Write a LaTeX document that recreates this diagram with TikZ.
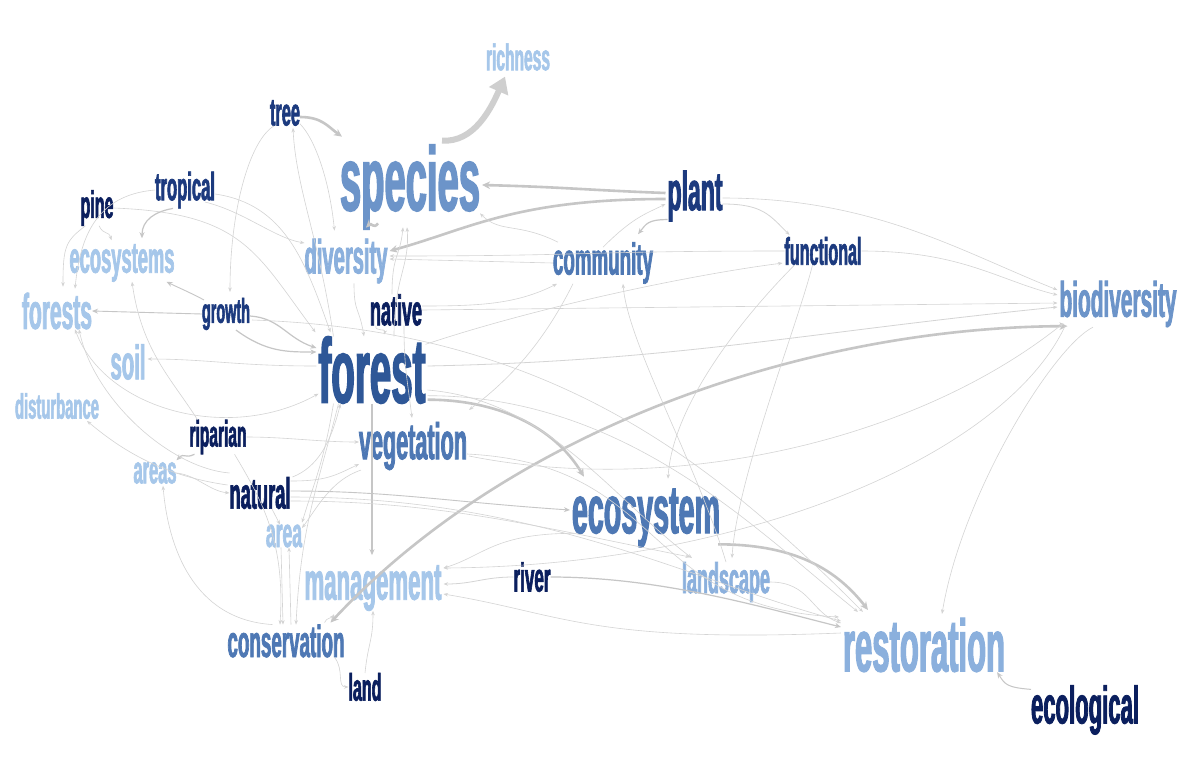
\documentclass[tikz,border=0pt]{standalone}
\usepackage{fontspec}
\usepackage{graphicx}
\usetikzlibrary{arrows.meta,calc}
\newfontfamily\condfont[FakeStretch=0.42,FakeBold=1.5]{Liberation Sans}
\newcommand\kwt[2]{\resizebox{#1pt}{!}{\condfont\bfseries #2}}
\definecolor{cNavy}{HTML}{0B1F5E}
\definecolor{cDark}{HTML}{1C3A7E}
\definecolor{cForest}{HTML}{2E5797}
\definecolor{cMid}{HTML}{4E78B4}
\definecolor{cSpec}{HTML}{6C94C9}
\definecolor{cLt}{HTML}{8BB0DD}
\definecolor{cPale}{HTML}{A6C7EA}
\definecolor{eg}{HTML}{D4D4D4}
\definecolor{egm}{HTML}{C6C6C6}
\tikzset{
  kw/.style={inner sep=0pt, outer sep=0pt},
  e/.style={draw=eg, line width=0.6pt, -{Stealth[length=4.5pt,width=3.5pt]}},
  em/.style={draw=egm, line width=1.2pt, -{Stealth[length=6pt,width=5pt]}},
  et/.style={draw=egm, line width=2.6pt, -{Stealth[length=8pt,width=7.5pt]}},
  ebig/.style={draw=egm!85, line width=6pt, -{Triangle[length=16pt,width=20pt]}},
}
\begin{document}
\begin{tikzpicture}[x=1pt,y=-1pt]
\useasboundingbox[fill=white] (0,0) rectangle (1200,756);
% nodes
\node[kw,text=cPale]   (richness)     at (518,57)  {\kwt{64}{richness}};
\node[kw,text=cDark]   (tree)         at (285,113) {\kwt{30}{tree}};
\node[kw,text=cSpec]   (species)      at (410,187) {\kwt{140}{species}};
\node[kw,text=cDark]   (plant)        at (695,196) {\kwt{55}{plant}};
\node[kw,text=cDark]   (tropical)     at (185,190) {\kwt{60}{tropical}};
\node[kw,text=cNavy]   (pine)         at (97,208)  {\kwt{33}{pine}};
\node[kw,text=cPale]   (ecosystems)   at (122,263) {\kwt{105}{ecosystems}};
\node[kw,text=cLt]     (diversity)    at (346,261) {\kwt{83}{diversity}};
\node[kw,text=cMid]    (community)    at (603,263) {\kwt{100}{community}};
\node[kw,text=cDark]   (functional)   at (823,251) {\kwt{77}{functional}};
\node[kw,text=cSpec]   (biodiversity) at (1118,304){\kwt{117}{biodiversity}};
\node[kw,text=cPale]   (forests)      at (57,311)  {\kwt{70}{forests}};
\node[kw,text=cDark]   (growth)       at (226,314) {\kwt{48}{growth}};
\node[kw,text=cNavy]   (native)       at (396,310) {\kwt{52}{native}};
\node[kw,text=cPale]   (soil)         at (128,362) {\kwt{35}{soil}};
\node[kw,text=cForest] (forest)       at (372,370) {\kwt{107}{forest}};
\node[kw,text=cPale]   (disturbance)  at (57,406)  {\kwt{84}{disturbance}};
\node[kw,text=cNavy]   (riparian)     at (218,437) {\kwt{57}{riparian}};
\node[kw,text=cMid]    (vegetation)   at (413,446) {\kwt{108}{vegetation}};
\node[kw,text=cPale]   (areas)        at (155,473) {\kwt{43}{areas}};
\node[kw,text=cNavy]   (natural)      at (260,493) {\kwt{61}{natural}};
\node[kw,text=cMid]    (ecosystem)    at (646,518) {\kwt{148}{ecosystem}};
\node[kw,text=cPale]   (area)         at (284,536) {\kwt{36}{area}};
\node[kw,text=cPale]   (management)   at (373,588) {\kwt{137}{management}};
\node[kw,text=cNavy]   (river)        at (532,577) {\kwt{37}{river}};
\node[kw,text=cLt]     (landscape)    at (726,582) {\kwt{88}{landscape}};
\node[kw,text=cMid]    (conservation) at (286,641) {\kwt{117}{conservation}};
\node[kw,text=cNavy]   (land)         at (365,687) {\kwt{33}{land}};
\node[kw,text=cLt]     (restoration)  at (924,645) {\kwt{162}{restoration}};
\node[kw,text=cNavy]   (ecological)   at (1085,710){\kwt{108}{ecological}};

% ---------- thick edges ----------
\draw[ebig] ($(species.north east)+(-38,-4)$) .. controls +(32,2) and +(-14,32) .. ($(richness.south)+(-13,6)$);
\draw[et] ($(tree.east)+(0,4)$) .. controls +(22,0) and +(-14,-10) .. ($(species.north west)+(2,-8)$);
\draw[et] ($(plant.west)+(-2,-3)$) .. controls +(-80,-3) and +(80,2) .. ($(species.east)+(2,-2)$);
\draw[et] ($(plant.west)+(-2,3)$) .. controls +(-150,0) and +(80,-22) .. ($(diversity.east)+(2,-10)$);
\draw[et] ($(species.south)+(-32,-6)$) .. controls +(-4,6) and +(5,-5) .. ($(diversity.north)+(20,-11)$);
\draw[et] ($(forest.south east)+(2,-4)$) .. controls +(70,0) and +(-30,-50) .. ($(ecosystem.north west)+(12,-12)$);
\draw[et] ($(ecosystem.south east)+(-2,-3)$) .. controls +(70,0) and +(-35,-45) .. ($(restoration.north west)+(25,-8)$);
\draw[et,{Stealth[length=8pt,width=7.5pt]}-{Stealth[length=8pt,width=7.5pt]}] ($(conservation.north east)+(-14,-2)$) .. controls +(189,-202) and +(-248,1) .. ($(biodiversity.south west)+(8,-1)$);
% ---------- medium edges ----------
\draw[em] ($(growth.south east)+(-14,0)$) .. controls +(30,22) and +(-30,0) .. ($(forest.west)+(-2,-18)$);
\draw[em] ($(growth.east)+(0,2)$) .. controls +(30,2) and +(-30,-10) .. ($(forest.west)+(-2,-22)$);
\draw[em] (forest.south) -- ($(management.north)+(-1,-10)$);
\draw[em] (river.east) .. controls +(110,0) and +(-80,-20) .. ($(restoration.west)+(-2,-18)$);
\draw[em,line width=1pt] ($(ecological.north west)+(0,4)$) .. controls +(-25,-2) and +(8,12) .. ($(restoration.south east)+(-8,0)$);
\draw[em] ($(tropical.south)+(-12,0)$) .. controls +(-18,3) and +(0,-18) .. ($(ecosystems.north)+(20,-6)$);
\draw[em] ($(riparian.south west)+(5,0)$) .. controls +(-10,5) and +(8,-8) .. ($(areas.north east)+(0,-2)$);
\draw[em] ($(plant.south west)+(0,-2)$) .. controls +(-20,0) and +(8,-10) .. ($(community.north east)+(-15,-8)$);
\draw[em,line width=0.9pt] (growth.west) -- (forests.east);
\draw[em,line width=0.9pt] ($(growth.north west)+(2,2)$) .. controls +(-15,-8) and +(10,5) .. ($(ecosystems.south east)+(-8,0)$);
\draw[em,line width=0.9pt] ($(natural.east)+(0,-2)$) .. controls +(100,0) and +(-120,-8) .. ($(ecosystem.west)+(-2,-8)$);
% ---------- thin edges ----------
\draw[e] ($(tree.south west)+(4,0)$) .. controls +(-25,15) and +(0,-80) .. ($(growth.north)+(4,-6)$);
\draw[e] ($(forest.north west)+(15,0)$) .. controls +(-15,-100) and +(3,60) .. ($(tree.south)+(8,2)$);
\draw[e] ($(tree.south east)+(0,-2)$) .. controls +(15,15) and +(-5,-50) .. ($(diversity.north west)+(30,-8)$);
\draw[e] (tropical.west) .. controls +(-60,5) and +(5,-50) .. ($(forests.north)+(18,-4)$);
\draw[e] ($(tropical.east)+(0,4)$) .. controls +(70,10) and +(-25,-70) .. ($(forest.north west)+(12,-4)$);
\draw[e] ($(tropical.east)+(-10,12)$) .. controls +(40,10) and +(-30,-5) .. ($(diversity.west)+(0,-18)$);
\draw[e] ($(pine.south)+(2,0)$) .. controls +(5,10) and +(-3,-10) .. ($(ecosystems.north west)+(42,-4)$);
\draw[e] ($(pine.south west)+(5,0)$) .. controls +(-20,15) and +(0,-40) .. ($(forests.north)+(6,-6)$);
\draw[e] (pine.east) .. controls +(130,5) and +(-60,-80) .. ($(forest.north west)+(-3,-4)$);
\draw[e] ($(forest.west)+(-2,-4)$) .. controls +(-80,0) and +(60,0) .. ($(soil.east)+(2,-3)$);
\draw[e] ($(riparian.north west)+(8,0)$) .. controls +(-25,-40) and +(10,70) .. ($(ecosystems.south)+(10,0)$);
\draw[e,{Stealth[length=4.5pt,width=3.5pt]}-{Stealth[length=4.5pt,width=3.5pt]}] ($(forests.south)+(18,0)$) .. controls +(30,80) and +(-90,50) .. ($(forest.south west)+(0,-10)$);
\draw[e] ($(natural.north west)+(0,-4)$) .. controls +(-60,-5) and +(15,70) .. ($(forests.south)+(22,0)$);
\draw[e] ($(natural.north east)+(2,0)$) .. controls +(25,-10) and +(-10,40) .. ($(forest.south west)+(22,0)$);
\draw[e] ($(natural.west)+(-2,-8)$) .. controls +(-70,-10) and +(30,25) .. ($(disturbance.south east)+(-12,2)$);
\draw[e] ($(conservation.north west)+(45,0)$) .. controls +(-80,-5) and +(5,60) .. ($(areas.south)+(8,2)$);
\draw[e] (riparian.east) .. controls +(40,0) and +(-40,0) .. ($(vegetation.west)+(0,-4)$);
\draw[e] ($(riparian.south east)+(-12,0)$) .. controls +(30,50) and +(5,-80) .. ($(conservation.north)+(-6,0)$);
\draw[e] ($(natural.north east)+(0,4)$) .. controls +(35,0) and +(-25,12) .. ($(vegetation.south west)+(0,-6)$);
\draw[e] ($(natural.south)+(12,0)$) -- ($(area.north)+(-4,0)$);
\draw[e] (areas.east) .. controls +(20,2) and +(-20,-2) .. (natural.west);
\draw[e] ($(natural.east)+(0,8)$) .. controls +(150,0) and +(-150,-30) .. ($(landscape.north west)+(8,-5)$);
\draw[e] ($(natural.east)+(0,4)$) .. controls +(250,0) and +(-150,-40) .. ($(restoration.west)+(-2,-24)$);
\draw[e] ($(area.south)+(-3,0)$) -- ($(conservation.north)+(-3,0)$);
\draw[e] ($(conservation.north)+(5,0)$) -- ($(area.south)+(5,0)$);
\draw[e] ($(forest.south west)+(15,0)$) .. controls +(-10,60) and +(12,-40) .. ($(area.north east)+(0,-2)$);
\draw[e] ($(vegetation.south west)+(2,0)$) .. controls +(-30,10) and +(15,-20) .. ($(area.east)+(0,-8)$);
\draw[e] ($(forest.south west)+(20,0)$) .. controls +(-20,80) and +(5,-100) .. ($(conservation.north)+(10,0)$);
\draw[e] ($(conservation.north east)+(-20,-2)$) .. controls +(3,-6) and +(-5,5) .. ($(management.south west)+(30,4)$);
\draw[e] (land.north) .. controls +(3,-30) and +(0,30) .. (management.south);
\draw[e] ($(conservation.south east)+(-10,0)$) .. controls +(10,12) and +(-12,0) .. (land.west);
\draw[e] ($(ecosystem.south west)+(2,-14)$) .. controls +(-80,0) and +(40,-12) .. ($(management.east)+(2,-20)$);
\draw[e,line width=0.8pt] (river.west) .. controls +(-30,0) and +(30,0) .. ($(management.east)+(2,-4)$);
\draw[e] ($(restoration.west)+(-2,-12)$) .. controls +(-250,10) and +(120,20) .. ($(management.east)+(2,6)$);
\draw[e] ($(biodiversity.south west)+(6,-2)$) .. controls +(-60,130) and +(300,-2) .. ($(management.east)+(2,-20)$);
\draw[e] ($(biodiversity.south)+(-25,0)$) .. controls +(-40,20) and +(20,-120) .. ($(restoration.north)+(18,-4)$);
\draw[e] ($(vegetation.east)+(2,10)$) .. controls +(200,40) and +(-150,120) .. ($(biodiversity.south west)+(4,-4)$);
\draw[e,line width=0.8pt] ($(forest.east)+(2,-4)$) .. controls +(250,-5) and +(-250,25) .. ($(biodiversity.west)+(-2,3)$);
\draw[e] (native.east) -- ($(biodiversity.west)+(-2,-1)$);
\draw[e] ($(plant.east)+(0,2)$) .. controls +(150,0) and +(-100,-40) .. ($(biodiversity.west)+(-2,-14)$);
\draw[e] (functional.east) .. controls +(100,0) and +(-60,-15) .. ($(biodiversity.west)+(-2,-9)$);
\draw[e,line width=0.8pt] ($(plant.east)+(0,8)$) .. controls +(40,0) and +(-20,-20) .. ($(functional.north west)+(5,-2)$);
\draw[e] ($(community.north)+(0,5)$) .. controls +(30,-30) and +(-20,10) .. ($(plant.west)+(-2,8)$);
\draw[e] ($(community.north west)+(5,0)$) .. controls +(-40,-20) and +(20,20) .. ($(species.south east)+(0,-16)$);
\draw[e] (community.west) -- ($(diversity.east)+(2,-2)$);
\draw[e] (functional.west) .. controls +(-200,0) and +(200,0) .. ($(diversity.east)+(2,-5)$);
\draw[e] ($(native.north)+(-4,0)$) .. controls +(0,-40) and +(-3,30) .. ($(species.south)+(-7,-2)$);
\draw[e] ($(forest.north)+(22,0)$) .. controls +(0,-60) and +(3,40) .. ($(species.south)+(-3,-2)$);
\draw[e] ($(native.east)+(0,-4)$) .. controls +(60,0) and +(-40,20) .. ($(community.south west)+(4,0)$);
\draw[e] ($(diversity.south)+(8,0)$) .. controls +(0,30) and +(-5,-30) .. ($(forest.north)+(-8,0)$);
\draw[e] ($(native.south west)+(6,0)$) .. controls +(-2,6) and +(2,-6) .. ($(forest.north)+(12,-2)$);
\draw[e] ($(native.south)+(8,0)$) .. controls +(0,40) and +(-5,-40) .. ($(vegetation.north)+(-1,-4)$);
\draw[e] ($(community.south west)+(20,0)$) .. controls +(-30,60) and +(40,-30) .. ($(vegetation.north east)+(2,-12)$);
\draw[e] (landscape.north) .. controls +(-30,-100) and +(5,60) .. ($(community.south)+(20,0)$);
\draw[e] ($(functional.south west)+(10,0)$) .. controls +(-40,40) and +(5,-80) .. ($(ecosystem.north)+(22,-10)$);
\draw[e] ($(functional.south west)+(28,0)$) .. controls +(-15,60) and +(5,-80) .. ($(landscape.north)+(6,-4)$);
\draw[e] ($(forest.north east)+(0,8)$) .. controls +(120,-40) and +(-80,10) .. ($(functional.south west)+(-2,-2)$);
\draw[e] ($(forest.east)+(2,20)$) .. controls +(120,10) and +(-80,-60) .. ($(landscape.north west)+(10,-4)$);
\draw[e] ($(growth.east)+(2,6)$) .. controls +(300,10) and +(-150,-150) .. ($(restoration.north west)+(20,-6)$);
\draw[e] ($(forest.south east)+(2,-8)$) .. controls +(200,0) and +(-100,-80) .. ($(restoration.north west)+(15,-6)$);
\draw[e] (landscape.east) .. controls +(40,0) and +(-30,-10) .. ($(restoration.west)+(-2,-22)$);
\draw[e] ($(vegetation.east)+(0,8)$) .. controls +(200,10) and +(-200,-10) .. ($(restoration.west)+(-4,-28)$);
\end{tikzpicture}
\end{document}
